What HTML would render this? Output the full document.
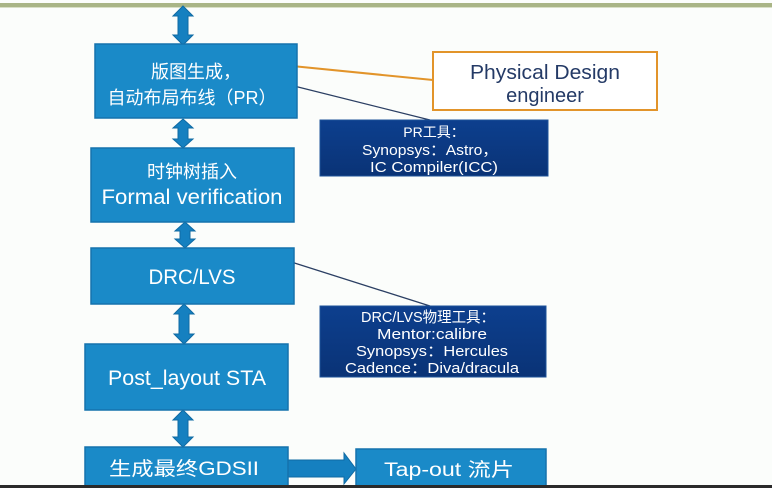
<!DOCTYPE html>
<html><head><meta charset="utf-8"><style>
html,body{margin:0;padding:0;background:#fbfdfb;}
svg{display:block}
text{font-family:"Liberation Sans","Noto Sans CJK SC",sans-serif;fill:#fff;text-anchor:middle}
</style></head><body>
<svg width="772" height="488" viewBox="0 0 772 488" xmlns="http://www.w3.org/2000/svg">
<defs>
<linearGradient id="dk" x1="0" y1="0" x2="0" y2="1"><stop offset="0" stop-color="#0d3f8e"/><stop offset="1" stop-color="#0a3376"/></linearGradient>
</defs>
<rect x="0" y="0" width="772" height="488" fill="#fbfdfb"/>
<rect x="0" y="3" width="772" height="4" fill="#a9b586"/>
<rect x="0" y="7" width="772" height="1" fill="#d8dfc6"/>
<g fill="#1580c0" stroke="#0f6aa3" stroke-width="1">
<polygon points="183,6 193,16 188,16 188,35 193,35 183,45 173,35 178,35 178,16 173,16"/>
<polygon points="183,119 193,128 188,128 188,139 193,139 183,148 173,139 178,139 178,128 173,128"/>
<polygon points="185,222 195,231 190,231 190,239 195,239 185,248 175,239 180,239 180,231 175,231"/>
<polygon points="184,304 194,314 189,314 189,334 194,334 184,344 174,334 179,334 179,314 174,314"/>
<polygon points="183,410 193,420 188,420 188,437 193,437 183,447 173,437 178,437 178,420 173,420"/>
<polygon points="288,460 344,460 344,453 356,469 344,484 344,477 288,477"/>
</g>
<line x1="282" y1="65" x2="433" y2="80" stroke="#e2942a" stroke-width="2"/>
<line x1="282" y1="83" x2="430" y2="120" stroke="#2b3f63" stroke-width="1.3"/>
<line x1="285" y1="260" x2="430" y2="306" stroke="#2b3f63" stroke-width="1.3"/>
<g fill="#1a8ac8" stroke="#1573ad" stroke-width="1.5">
<rect x="95" y="44" width="202" height="74"/>
<rect x="91" y="148" width="203" height="74"/>
<rect x="91" y="248" width="203" height="56"/>
<rect x="85" y="344" width="203" height="66"/>
<rect x="85" y="447" width="203" height="45"/>
<rect x="356" y="449" width="190" height="45"/>
</g>
<rect x="433" y="52" width="224" height="58" fill="#fff" stroke="#e2942a" stroke-width="2"/>
<rect x="320" y="120" width="228" height="56" fill="url(#dk)" stroke="#1d5298"/>
<rect x="320" y="306" width="226" height="71" fill="url(#dk)" stroke="#1d5298"/>
<text x="196" y="78" font-size="18">版图生成，</text>
<text x="192" y="104" font-size="18">自动布局布线（PR）</text>
<text x="192" y="178" font-size="18">时钟树插入</text>
<text x="192" y="204" font-size="21" textLength="181" lengthAdjust="spacingAndGlyphs">Formal verification</text>
<text x="192" y="284" font-size="21" textLength="87" lengthAdjust="spacingAndGlyphs">DRC/LVS</text>
<text x="187" y="385" font-size="21" textLength="158" lengthAdjust="spacingAndGlyphs">Post_layout STA</text>
<text x="184" y="475" font-size="19" textLength="150" lengthAdjust="spacingAndGlyphs">生成最终GDSII</text>
<text x="449" y="476" font-size="19" textLength="130" lengthAdjust="spacingAndGlyphs">Tap-out 流片</text>
<text x="545" y="79" font-size="20" textLength="150" lengthAdjust="spacingAndGlyphs" style="fill:#243a66">Physical Design</text>
<text x="545" y="102" font-size="20" style="fill:#243a66">engineer</text>
<text x="434" y="137" font-size="14">PR工具：</text>
<text x="430" y="155" font-size="15" textLength="136" lengthAdjust="spacingAndGlyphs">Synopsys：Astro，</text>
<text x="434" y="172" font-size="15" textLength="128" lengthAdjust="spacingAndGlyphs">IC Compiler(ICC)</text>
<text x="428" y="322" font-size="15" textLength="134" lengthAdjust="spacingAndGlyphs">DRC/LVS物理工具：</text>
<text x="432" y="339" font-size="15" textLength="110" lengthAdjust="spacingAndGlyphs">Mentor:calibre</text>
<text x="432" y="356" font-size="15" textLength="152" lengthAdjust="spacingAndGlyphs">Synopsys：Hercules</text>
<text x="432" y="373" font-size="15" textLength="174" lengthAdjust="spacingAndGlyphs">Cadence：Diva/dracula</text>
<rect x="0" y="485" width="772" height="3" fill="#2a2a2a"/>
</svg>
</body></html>
